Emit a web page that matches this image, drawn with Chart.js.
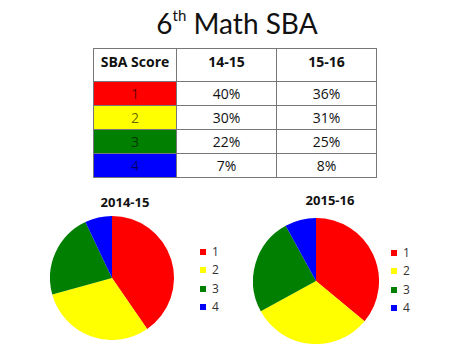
<!DOCTYPE html>
<html><head><meta charset="utf-8">
<script src="https://cdn.jsdelivr.net/npm/chart.js@4"></script>
<style>
html,body{margin:0;padding:0;background:#fff;width:474px;height:355px;overflow:hidden;font-family:"Open Sans","Liberation Sans",sans-serif;}
#title{position:absolute;left:0;width:474px;top:6px;text-align:center;font-size:28px;color:#111;font-family:Lato,"Open Sans",sans-serif;}
#title sup{font-size:15px;position:relative;top:-3px;}
table{position:absolute;left:93px;top:48px;border-collapse:collapse;font-size:14px;color:#111;}
td{border:1px solid #777;text-align:center;padding:0;height:23px;}
tr.h td{height:33px;font-weight:bold;vertical-align:top;padding-top:3px;box-sizing:border-box;}
.ptitle{position:absolute;font-weight:bold;font-size:13px;color:#111;width:120px;text-align:center;}
.leg{position:absolute;font-size:12px;color:#333;}
.leg div{height:18.3px;line-height:18px;}
.leg span{display:inline-block;width:6px;height:6px;margin-right:6px;vertical-align:1px;}
canvas{position:absolute;}
</style></head><body>
<div id="title">6<sup>th</sup> Math SBA</div>
<table id="tbl"></table>
<div class="ptitle" style="left:65px;top:193px">2014-15</div>
<div class="ptitle" style="left:270px;top:191px">2015-16</div>
<div style="position:absolute;left:50px;top:216px;width:124px;height:124px"><canvas id="c1"></canvas></div>
<div style="position:absolute;left:253px;top:218px;width:126px;height:126px"><canvas id="c2"></canvas></div>
<div class="leg" id="l1" style="left:200px;top:243px"></div>
<div class="leg" id="l2" style="left:391px;top:244px"></div>
<script>
const categories = ["1","2","3","4"];
const colors = ["#ff0000","#ffff00","#007f00","#0000ff"];
const years = ["14-15","15-16"];
const pieTitles = ["2014-15","2015-16"];
const values1415 = [40,30,22,7];
const values1516 = [36,31,25,8];
const headerLabel = "SBA Score";

// table
const tbl = document.getElementById('tbl');
let h = '<tr class="h"><td style="width:83px">'+headerLabel+'</td><td style="width:100px">'+years[0]+'</td><td style="width:100px">'+years[1]+'</td></tr>';
categories.forEach((c,i)=>{
  h += '<tr><td style="background:'+colors[i]+';color:rgba(0,0,0,0.6)">'+c+'</td><td>'+values1415[i]+'%</td><td>'+values1516[i]+'%</td></tr>';
});
tbl.innerHTML = h;

function legend(id){
  document.getElementById(id).innerHTML = categories.map((c,i)=>'<div><span style="background:'+colors[i]+'"></span>'+c+'</div>').join('');
}
legend('l1'); legend('l2');

function pie(id, vals){
  new Chart(document.getElementById(id), {
    type:'pie',
    data:{labels:categories, datasets:[{data:vals, backgroundColor:colors, borderWidth:0}]},
    options:{responsive:true, maintainAspectRatio:false, animation:false, layout:{padding:0},
      plugins:{legend:{display:false}, tooltip:{enabled:false}, title:{display:false}}}
  });
}
pie('c1', values1415);
pie('c2', values1516);
</script>
</body></html>
